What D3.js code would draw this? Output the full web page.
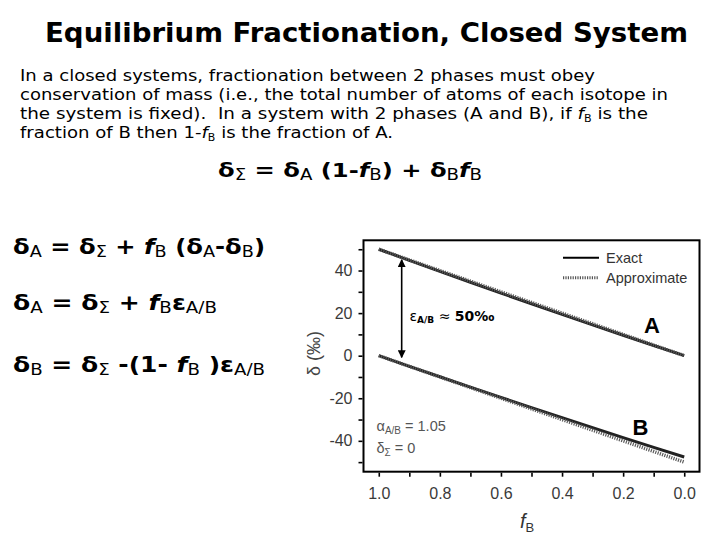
<!DOCTYPE html>
<html>
<head>
<meta charset="utf-8">
<script src="https://cdnjs.cloudflare.com/ajax/libs/d3/7.8.5/d3.min.js"></script>
<style>
  body { margin: 0; background: #fff; }
  svg text { white-space: pre; }
</style>
</head>
<body>
<div class="canvas"></div>
<script>
// chart data
const fB = [1.0, 0.9, 0.8, 0.7, 0.6, 0.5, 0.4, 0.3, 0.2, 0.1, 0.0];
const exactA = [50, 44.8, 39.6, 34.5, 29.4, 24.4, 19.4, 14.5, 9.6, 4.8, 0];
const exactB = [0, -5.0, -9.9, -14.8, -19.6, -24.4, -29.1, -33.8, -38.5, -43.1, -47.6];
const approxA = [50, 45, 40, 35, 30, 25, 20, 15, 10, 5, 0];
const approxB = [0, -5, -10, -15, -20, -25, -30, -35, -40, -45, -50];

const yTicks = [-50, -40, -30, -20, -10, 0, 10, 20, 30, 40, 50];
const yLabels = [-40, -20, 0, 20, 40];
const xTicks = [1.0, 0.9, 0.8, 0.7, 0.6, 0.5, 0.4, 0.3, 0.2, 0.1, 0.0];
const xLabels = [1.0, 0.8, 0.6, 0.4, 0.2, 0.0];
const legendNames = ['Exact', 'Approximate'];

const titleText = 'Equilibrium Fractionation, Closed System';
const bodyLines = [
  'In a closed systems, fractionation between 2 phases must obey',
  'conservation of mass (i.e., the total number of atoms of each isotope in',
  'the system is fixed).  In a system with 2 phases (A and B), if {f} is the',
  'fraction of B then 1-{f} is the fraction of A.'
];
const bodyWidths = [575, 648, 628, 373];

const svg = d3.select('.canvas')
  .append('svg')
  .attr('width', 720)
  .attr('height', 540);

const slideFont = '"DejaVu Sans", Verdana, sans-serif';
const chartFont = '"Liberation Sans", Arial, sans-serif';

// title
svg.append('text')
  .attr('x', 45)
  .attr('y', 42)
  .attr('font-family', slideFont)
  .attr('font-weight', 'bold')
  .attr('font-size', 27)
  .attr('textLength', 643)
  .attr('lengthAdjust', 'spacingAndGlyphs')
  .text(titleText);

// paragraph, {f} becomes italic f with subscript B
bodyLines.forEach((line, i) => {
  const t = svg.append('text')
    .attr('x', 20)
    .attr('y', 81 + i * 19)
    .attr('font-family', slideFont)
    .attr('font-size', 16.5)
    .attr('textLength', bodyWidths[i])
    .attr('lengthAdjust', 'spacingAndGlyphs');
  line.split('{f}').forEach((part, j) => {
    if (j > 0) {
      t.append('tspan').attr('font-style', 'italic').text('f');
      t.append('tspan').attr('font-size', 10).attr('dy', 3).text('B');
      t.append('tspan').attr('dy', -3).text(part);
    } else {
      t.append('tspan').text(part);
    }
  });
});

// equations: b = bold, s = subscript, i = bold italic
const richText = (x, y, segs, size, subSize, width) => {
  const t = svg.append('text')
    .attr('x', x)
    .attr('y', y)
    .attr('font-family', slideFont)
    .attr('font-size', size)
    .attr('textLength', width)
    .attr('lengthAdjust', 'spacingAndGlyphs');
  let low = false;
  segs.forEach(([str, kind]) => {
    const sp = t.append('tspan').text(str);
    if (kind === 's') {
      sp.attr('font-size', subSize);
      if (!low) sp.attr('dy', 3);
      low = true;
    } else {
      sp.attr('font-weight', 'bold');
      if (kind === 'i') sp.attr('font-style', 'italic');
      if (low) sp.attr('dy', -3);
      low = false;
    }
  });
};

richText(218, 177, [
  ['δ', 'b'], ['Σ', 's'], [' = δ', 'b'], ['A', 's'], [' (1-', 'b'], ['f', 'i'], ['B', 's'],
  [') + δ', 'b'], ['B', 's'], ['f', 'i'], ['B', 's']
], 20, 15, 264);

richText(13, 254, [
  ['δ', 'b'], ['A', 's'], [' = δ', 'b'], ['Σ', 's'], [' + ', 'b'], ['f', 'i'], ['B', 's'],
  [' (δ', 'b'], ['A', 's'], ['-δ', 'b'], ['B', 's'], [')', 'b']
], 22, 16, 252);

richText(13, 310, [
  ['δ', 'b'], ['A', 's'], [' = δ', 'b'], ['Σ', 's'], [' + ', 'b'], ['f', 'i'], ['B', 's'],
  ['ε', 'b'], ['A/B', 's']
], 22, 16, 204);

richText(13, 372, [
  ['δ', 'b'], ['B', 's'], [' = δ', 'b'], ['Σ', 's'], [' -(1- ', 'b'], ['f', 'i'], ['B', 's'],
  [' )ε', 'b'], ['A/B', 's']
], 22, 16, 252);

// chart
const x = d3.scaleLinear().domain([1.05, -0.05]).range([363.5, 699.5]);
const y = d3.scaleLinear().domain([-54.5, 54.2]).range([471.7, 240.3]);

const plot = svg.append('g');

const line = d3.line()
  .x((d, i) => x(fB[i]))
  .y(d => y(d));

[exactA, exactB].forEach(series => {
  plot.append('path')
    .datum(series)
    .attr('fill', 'none')
    .attr('stroke', '#222')
    .attr('stroke-width', 3)
    .attr('d', line);
});

[approxA, approxB].forEach(series => {
  plot.append('path')
    .datum(series)
    .attr('fill', 'none')
    .attr('stroke', '#5a5a5a')
    .attr('stroke-width', 3.5)
    .attr('stroke-dasharray', '1.2,1.2')
    .attr('d', line);
});

// frame
plot.append('rect')
  .attr('x', x.range()[0])
  .attr('y', y.range()[1])
  .attr('width', x.range()[1] - x.range()[0])
  .attr('height', y.range()[0] - y.range()[1])
  .attr('fill', 'none')
  .attr('stroke', '#000')
  .attr('stroke-width', 2);

const xAxis = d3.axisBottom(x)
  .tickValues(xTicks)
  .tickSize(4)
  .tickPadding(11)
  .tickFormat(d => xLabels.some(v => Math.abs(v - d) < 1e-9) ? d3.format('.1f')(d) : '');

const yAxis = d3.axisLeft(y)
  .tickValues(yTicks)
  .tickSize(4)
  .tickPadding(6)
  .tickFormat(d => yLabels.includes(d) ? d : '');

const xAxisGroup = plot.append('g')
  .attr('transform', `translate(0, ${y.range()[0] + 1})`)
  .call(xAxis);

const yAxisGroup = plot.append('g')
  .attr('transform', `translate(${x.range()[0] - 1}, 0)`)
  .call(yAxis);

[xAxisGroup, yAxisGroup].forEach(g => {
  g.select('.domain').remove();
  g.selectAll('line').attr('stroke', '#000').attr('stroke-width', 1.6);
  g.selectAll('text')
    .attr('font-family', chartFont)
    .attr('font-size', 16)
    .attr('fill', '#3a3a3a');
});

// axis titles
svg.append('text')
  .attr('transform', 'translate(320, 353.5) rotate(-90)')
  .attr('text-anchor', 'middle')
  .attr('font-family', chartFont)
  .attr('font-size', 18)
  .attr('fill', '#444')
  .text('δ (‰)');

const xTitle = svg.append('text')
  .attr('x', 520)
  .attr('y', 528)
  .attr('font-family', chartFont)
  .attr('fill', '#333');
xTitle.append('tspan').attr('font-size', 20).attr('font-style', 'italic').text('f');
xTitle.append('tspan').attr('font-size', 13).attr('dy', 4).text('B');

// legend
const legendGroup = svg.append('g')
  .attr('transform', 'translate(563, 257.7)');

legendNames.forEach((name, i) => {
  const row = legendGroup.append('g')
    .attr('transform', `translate(0, ${i * 20})`);
  row.append('line')
    .attr('x1', 0).attr('x2', 36)
    .attr('stroke', i === 0 ? '#000' : '#555')
    .attr('stroke-width', i === 0 ? 2 : 3)
    .attr('stroke-dasharray', i === 0 ? null : '1.2,1.2');
  row.append('text')
    .attr('x', 43)
    .attr('y', 5)
    .attr('font-family', chartFont)
    .attr('font-size', 14.5)
    .attr('fill', '#333')
    .text(name);
});

// double arrow between the phases
const defs = svg.append('defs');
defs.append('marker')
  .attr('id', 'head')
  .attr('viewBox', '0 0 10 10')
  .attr('refX', 9).attr('refY', 5)
  .attr('markerWidth', 5).attr('markerHeight', 5)
  .attr('orient', 'auto-start-reverse')
  .append('path')
    .attr('d', 'M0,0 L10,5 L0,10 Z')
    .attr('fill', '#000');

plot.append('line')
  .attr('x1', x(0.925)).attr('x2', x(0.925))
  .attr('y1', y(45)).attr('y2', y(-0.8))
  .attr('stroke', '#000')
  .attr('stroke-width', 1.6)
  .attr('marker-start', 'url(#head)')
  .attr('marker-end', 'url(#head)');

const eps = svg.append('text')
  .attr('x', 409.5)
  .attr('y', 321)
  .attr('font-family', slideFont)
  .attr('fill', '#000');
eps.append('tspan').attr('font-size', 14).text('ε');
eps.append('tspan').attr('font-size', 9).attr('font-weight', 'bold').attr('dy', 2).text('A/B');
eps.append('tspan').attr('font-size', 14).attr('dy', -2).text(' ≈ ');
eps.append('tspan').attr('font-size', 14).attr('font-weight', 'bold').text('50‰');

// phase labels
svg.append('text')
  .attr('x', 652).attr('y', 333)
  .attr('text-anchor', 'middle')
  .attr('font-family', chartFont)
  .attr('font-weight', 'bold')
  .attr('font-size', 22)
  .text('A');

svg.append('text')
  .attr('x', 640.5).attr('y', 435)
  .attr('text-anchor', 'middle')
  .attr('font-family', chartFont)
  .attr('font-weight', 'bold')
  .attr('font-size', 22)
  .text('B');

// parameters
const alphaText = svg.append('text')
  .attr('x', 376.5).attr('y', 431)
  .attr('font-family', chartFont)
  .attr('font-size', 14.5)
  .attr('fill', '#555');
alphaText.append('tspan').text('α');
alphaText.append('tspan').attr('font-size', 10).attr('dy', 3).text('A/B');
alphaText.append('tspan').attr('dy', -3).text(' = 1.05');

const sigmaText = svg.append('text')
  .attr('x', 376.5).attr('y', 453)
  .attr('font-family', chartFont)
  .attr('font-size', 14.5)
  .attr('fill', '#555');
sigmaText.append('tspan').text('δ');
sigmaText.append('tspan').attr('font-size', 10).attr('dy', 3).text('Σ');
sigmaText.append('tspan').attr('dy', -3).text(' = 0');
</script>
</body>
</html>
